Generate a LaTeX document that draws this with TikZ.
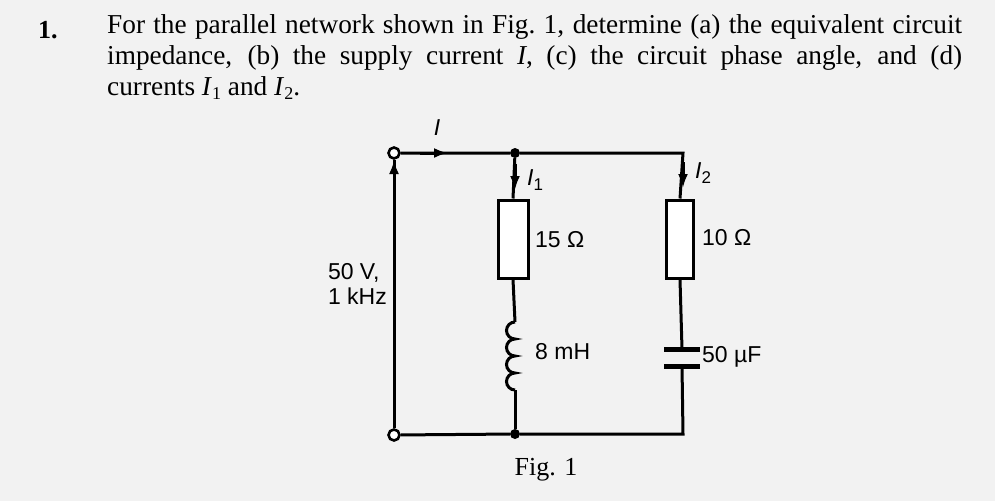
\documentclass[tikz,border=0pt]{standalone}
\usepackage{fontspec}
\setmainfont{Liberation Serif}
\newfontfamily\sansf{Liberation Sans}
\usetikzlibrary{arrows.meta}
\begin{document}
\begin{tikzpicture}[x=1pt,y=-1pt,
  w/.style={line width=3pt},
  lab/.style={font=\sansf\fontsize{23}{25}\selectfont,inner sep=0pt},
  ilab/.style={font=\sansf\itshape\fontsize{23}{25}\selectfont,inner sep=0pt},
  term/.style={circle,draw,line width=2.6pt,fill=white,inner sep=0pt,minimum size=11pt},
  dot/.style={circle,fill,inner sep=0pt,minimum size=10pt},
  res/.style={draw,line width=3pt,fill=white,minimum width=30pt,minimum height=78pt,inner sep=0pt},
  arr/.style={-{Latex[length=14pt,width=10pt]},line width=3pt}]
\fill[white!90!gray] (0,0) rectangle (995,501);
\node[anchor=base west,inner sep=0pt,font=\bfseries\fontsize{26}{31}\selectfont] (num) at (38,38) {1.};
\node[anchor=north west,inner sep=0pt,text width=855pt,align=justify,font=\fontsize{27.3}{31}\selectfont] (txt) at (107,14)
{\hyphenpenalty=10000 For the parallel network shown in Fig.~1, determine (a) the equivalent circuit\linebreak impedance, (b) the supply current \textit{I}, (c) the circuit phase angle, and (d)\linebreak currents \textit{I}\raisebox{-0.35ex}{\fontsize{18}{18}\selectfont 1} and \textit{I}\raisebox{-0.35ex}{\fontsize{18}{18}\selectfont 2}.};
% circuit
\node[term] (t1) at (394,153) {};
\node[term] (t2) at (394,435) {};
\node[dot] (j1) at (515,153) {};
\node[dot] (j2) at (515,434) {};
\coordinate (c1) at (683,153);
\coordinate (c2) at (683,434);
\node[res] (r1) at (513,239) {};
\node[res,minimum width=27pt] (r2) at (680,239) {};
\coordinate (l1) at (515,322);
\coordinate (l2) at (515,390);
\coordinate (cp1) at (682,349);
\coordinate (cp2) at (682,366);
\draw[w] (t1) -- (j1) -- (c1) -- (r2.north);
\draw[w] (t2) -- (j2) -- (c2) -- (cp2);
\draw[w] (j1) -- (r1.north);
\draw[w] (r1.south) -- (l1);
\draw[w] (l2) -- (j2);
\draw[w] (r2.south) -- (cp1);
\draw[line width=5pt] (664,349) -- (700,349) (664,366) -- (700,366);
\draw[w] (l1) arc[start angle=270,end angle=90,radius=8.5]
  arc[start angle=270,end angle=90,radius=8.5]
  arc[start angle=270,end angle=90,radius=8.5]
  arc[start angle=270,end angle=90,radius=8.5];
\draw[w] (t2) -- (t1);
\draw[arr] (394,185) -- (394,160);
\draw[arr] (420,153) -- (448,153);
\draw[arr] (515,164) -- (515,190);
\draw[arr] (683,162) -- (683,188);
\node[ilab] (li) at (437,128) {I};
\node[ilab,anchor=west] (li1) at (527,180) {I\raisebox{-0.4ex}{\upshape\fontsize{17}{17}\selectfont 1}};
\node[ilab,anchor=west] (li2) at (695,173) {I\raisebox{-0.4ex}{\upshape\fontsize{17}{17}\selectfont 2}};
\node[lab,anchor=west] (v1) at (535,240) {15 Ω};
\node[lab,anchor=west] (v2) at (702,238) {10 Ω};
\node[lab,anchor=west] (v3) at (535,352) {8 mH};
\node[lab,anchor=west] (v4) at (702,357) {50 µF};
\node[lab,align=left,anchor=east] (src) at (387,284) {50 V,\\1 kHz};
\node[inner sep=0pt,font=\fontsize{26}{28}\selectfont] (fig) at (546,470) {Fig. 1};
\end{tikzpicture}
\end{document}
